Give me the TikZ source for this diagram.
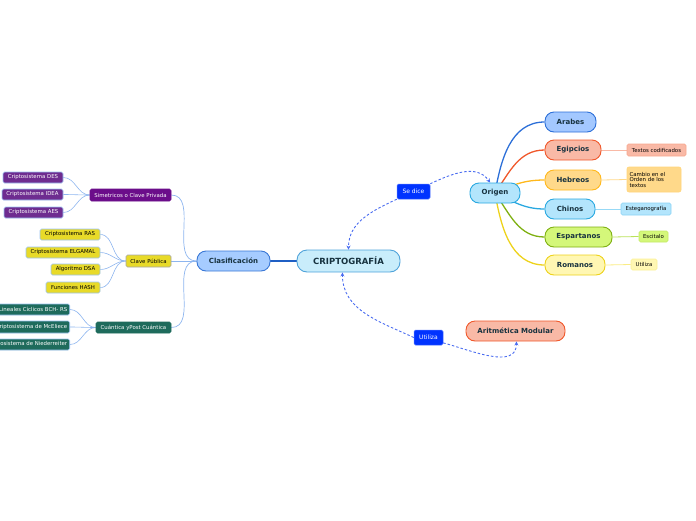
\documentclass[tikz,border=0pt]{standalone}
\usepackage{fontspec}
\setmainfont{DejaVu Sans}
\usetikzlibrary{arrows.meta,backgrounds}
\definecolor{txtdark}{HTML}{17323F}
\definecolor{cripfill}{HTML}{C9EDFB}
\definecolor{cripdraw}{HTML}{4FA3DA}
\definecolor{clasfill}{HTML}{A6CCFF}
\definecolor{clasdraw}{HTML}{3A78D6}
\definecolor{mainline}{HTML}{1F5FC4}
\definecolor{lightline}{HTML}{8DB5EF}
\definecolor{purpA}{HTML}{6B0D8A}
\definecolor{purpB}{HTML}{6E2C90}
\definecolor{yel}{HTML}{E8DA28}
\definecolor{teal}{HTML}{1E6B5C}
\definecolor{leafbd}{HTML}{9CC3F2}
\definecolor{tagblue}{HTML}{0033FF}
\definecolor{dashblue}{HTML}{4A6CF0}
\definecolor{arF}{HTML}{A3C8FF}\definecolor{arD}{HTML}{2C6FD8}
\definecolor{egF}{HTML}{F9B9A6}\definecolor{egD}{HTML}{F0582B}
\definecolor{heF}{HTML}{FFD98A}\definecolor{heD}{HTML}{FFB81C}
\definecolor{chF}{HTML}{B3E5FC}\definecolor{chD}{HTML}{29A8E0}
\definecolor{esF}{HTML}{D4F77A}\definecolor{esD}{HTML}{7FB012}
\definecolor{roF}{HTML}{FFF7B3}\definecolor{roD}{HTML}{EDD21A}
\begin{document}
\begin{tikzpicture}[x=1pt,y=-1pt,
  main/.style={draw, rounded corners=9pt, line width=0.9pt, minimum height=20pt,
    font=\bfseries\fontsize{7}{8}\selectfont, text=txtdark, inner xsep=2pt},
  leaf/.style={draw=leafbd, rounded corners=1.5pt, line width=0.6pt, minimum height=11pt,
    font=\fontsize{5.4}{6}\selectfont, inner xsep=1pt, inner ysep=1pt},
  sub/.style={leaf, minimum height=12pt},
  tag/.style={fill=tagblue, draw=tagblue!70, rounded corners=1.5pt, line width=0.5pt,
    minimum height=15pt, text=white, font=\fontsize{6}{7}\selectfont, inner xsep=2pt},
  dlink/.style={dashblue, dashed, dash pattern=on 2.5pt off 2pt, line width=0.9pt},
  tip/.style={-{Stealth[length=4pt,width=4pt]}},
  branch/.style={line width=1.3pt},
  thin/.style={lightline, line width=0.7pt},
  twig/.style={line width=0.8pt}
]
\useasboundingbox (0,0) rectangle (696,520);

% centre
\node[main, fill=cripfill, draw=cripdraw, minimum width=103pt, minimum height=22pt,
  rounded corners=10pt, font=\bfseries\fontsize{8.5}{9}\selectfont] (crip) at (348.5,261) {CRIPTOGRAFÍA};
\node[main, fill=clasfill, draw=clasdraw, minimum width=73pt] (clas) at (233.5,261) {Clasificación};

% left level 2
\node[sub, fill=purpA, text=white, draw=purpA, minimum width=81pt] (sim) at (130.5,195) {Simetricos o Clave Privada};
\node[sub, fill=yel, draw=black!35, minimum width=45pt] (cp) at (148.5,261) {Clave Pública};
\node[leaf, fill=teal, text=white, draw=teal, minimum width=75pt] (cua) at (133.5,327.5) {Cuántica yPost Cuántica};

% left leaves
\node[leaf, fill=purpB, text=white, minimum width=60pt] (des) at (33,177.5) {Criptosistema DES};
\node[leaf, fill=purpB, text=white, minimum width=61pt] (idea) at (32.5,194.5) {Criptosistema IDEA};
\node[leaf, fill=purpB, text=white, minimum width=59pt] (aes) at (33.5,212.5) {Criptosistema AES};
\node[leaf, fill=yel, minimum width=60pt] (ras) at (70,234.5) {Criptosistema RAS};
\node[leaf, fill=yel, minimum width=74pt] (elg) at (63,252.5) {Criptosistema ELGAMAL};
\node[leaf, fill=yel, minimum width=49pt] (dsa) at (75.5,269.5) {Algoritmo DSA};
\node[leaf, fill=yel, minimum width=54pt] (hash) at (73,287.5) {Funciones HASH};
\node[leaf, fill=teal, text=white, anchor=east, inner xsep=2.5pt] (bch) at (70,309.5) {Códigos Lineales Cíclicos BCH- RS};
\node[leaf, fill=teal, text=white, anchor=east, minimum height=12pt, inner xsep=2.5pt] (mce) at (70,327) {Criptosistema de McEliece};
\node[leaf, fill=teal, text=white, anchor=east, inner xsep=2.5pt] (nie) at (70,344.5) {Criptosistema de Niederreiter};

% tags
\node[tag, minimum width=33pt] (sedice) at (413.5,191.5) {Se dice};
\node[tag, minimum width=29pt] (util) at (428.5,337.5) {Utiliza};

% right
\node[main, fill=chF, draw=chD, minimum width=50pt] (origen) at (495,193) {Origen};
\node[main, fill=arF, draw=arD, minimum width=51pt] (arabes) at (570.5,122) {Arabes};
\node[main, fill=egF, draw=egD, minimum width=56pt] (egip) at (573,150) {Egipcios};
\node[main, fill=heF, draw=heD, minimum width=56pt] (hebr) at (573,180) {Hebreos};
\node[main, fill=chF, draw=chD, minimum width=50pt] (chinos) at (570,209) {Chinos};
\node[main, fill=esF, draw=esD, minimum width=67pt] (espar) at (578.5,237) {Espartanos};
\node[main, fill=roF, draw=roD, minimum width=60pt] (roman) at (575,265) {Romanos};
\node[main, fill=egF, draw=egD, minimum width=99pt] (arit) at (515.5,331) {Aritmética Modular};

\node[sub, fill=egF, draw=egF!80!egD, minimum width=59pt] (textos) at (656.5,150) {Textos codificados};
\node[leaf, fill=heF, draw=heF!85!heD, minimum width=54pt, minimum height=25pt, rounded corners=2pt,
  align=left, text width=49pt, inner xsep=2.5pt] (cambio) at (654,179.5) {Cambio en el\\[-0.5pt]Orden de los\\[-0.5pt]textos};
\node[sub, fill=chF, draw=chF!70!chD, minimum width=50pt] (este) at (646,209) {Esteganografía};
\node[leaf, fill=esF, draw=esF!80!esD, minimum width=29pt] (esci) at (653.5,236.5) {Escitalo};
\node[leaf, fill=roF, draw=roF!80!roD, minimum width=26pt] (util2) at (644,264.5) {Utiliza};

\begin{scope}[on background layer]
  \draw[mainline, line width=1.3pt] (crip.west) -- (clas.east);
  \draw[thin] (clas.west) to[out=180,in=0] (sim.east);
  \draw[thin] (clas.west) -- (cp.east);
  \draw[thin] (clas.west) to[out=180,in=0] (cua.east);
  \foreach \n in {des,idea,aes} \draw[thin, line width=0.6pt] (sim.west) to[out=180,in=0] (\n.east);
  \foreach \n in {ras,elg,dsa,hash} \draw[thin, line width=0.6pt] (cp.west) to[out=180,in=0] (\n.east);
  \foreach \n in {bch,mce,nie} \draw[thin, line width=0.6pt] (cua.west) to[out=180,in=0] (\n.east);

  \draw[branch, arD] (origen.center) to[out=80,in=180] (arabes.west);
  \draw[branch, egD] (origen.center) to[out=55,in=180] (egip.west);
  \draw[branch, heD] (origen.center) to[out=25,in=180] (hebr.west);
  \draw[branch, chD] (origen.center) to[out=-25,in=180] (chinos.west);
  \draw[branch, esD] (origen.center) to[out=-55,in=180] (espar.west);
  \draw[branch, roD] (origen.center) to[out=-80,in=180] (roman.west);

  \draw[twig, egF] (egip.east) -- (textos.west);
  \draw[twig, heF] (hebr.east) -- (cambio.west);
  \draw[twig, chF!80!chD] (chinos.east) -- (este.west);
  \draw[twig, esF!70!esD] (espar.east) -- (esci.west);
  \draw[twig, roF!70!roD] (roman.east) -- (util2.west);
\end{scope}

% dashed relations
\draw[dlink, tip] (sedice.south west) to[out=205,in=90] (crip.north);
\draw[dlink, tip] (sedice.north east) to[out=25,in=125] (origen.115);
\draw[dlink, tip] (util.west) to[out=155,in=-90] (crip.-118);
\draw[dlink, tip] (util.-20) to[out=-15,in=-90] (arit.-85);
\end{tikzpicture}
\end{document}
